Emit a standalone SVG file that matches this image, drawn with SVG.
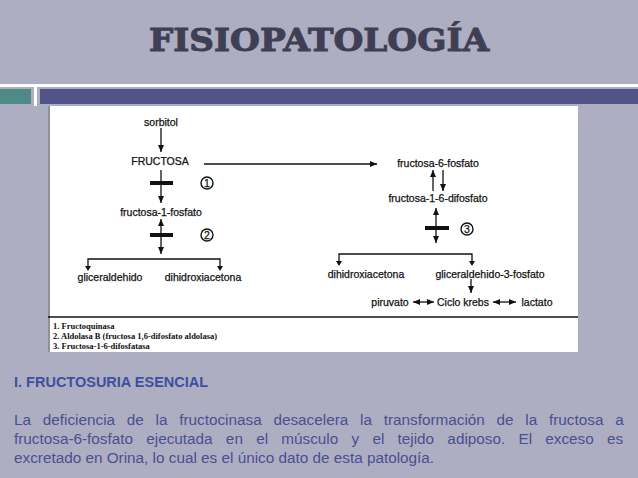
<svg xmlns="http://www.w3.org/2000/svg" width="638" height="478" viewBox="0 0 638 478">
<defs>
<marker id="ah" markerWidth="8" markerHeight="8" refX="7" refY="4" orient="auto-start-reverse" markerUnits="userSpaceOnUse"><path d="M0,1 L7,4 L0,7 Z" fill="#111"/></marker>
<style>
.t{font-family:"Liberation Sans",Arial,sans-serif;font-size:10.5px;fill:#111;text-anchor:middle;stroke:#111;stroke-width:0.25}
.l{stroke:#111;stroke-width:1.3;fill:none}
.b{stroke:#111;stroke-width:4}
.c{fill:none;stroke:#111;stroke-width:1.4}
.lg{font-family:"Liberation Serif",serif;font-size:8.5px;font-weight:bold;fill:#111}
.p{font-family:"Liberation Sans",Arial,sans-serif;font-size:15.3px;fill:#4a4f90}
</style>
</defs>
<rect width="638" height="478" fill="#aeaec2"/>
<text x="319" y="51" text-anchor="middle" font-family="DejaVu Serif" font-weight="bold" font-size="31" fill="#3e3f55" stroke="#3e3f55" stroke-width="1" textLength="340" lengthAdjust="spacingAndGlyphs">FISIOPATOLOGÍA</text>
<rect x="0" y="84" width="638" height="3" fill="#ffffff"/>
<rect x="0" y="89" width="31" height="15" fill="#4f8a86"/>
<rect x="34" y="87" width="3" height="19" fill="#ffffff"/>
<rect x="40" y="89" width="598" height="15" fill="#525488"/>
<rect x="48" y="106" width="530" height="246" fill="#ffffff"/>
<line x1="49" y1="106" x2="49" y2="352" stroke="#222" stroke-width="1"/>
<g id="connectors">
<line class="l" x1="161" y1="128" x2="161" y2="152" marker-end="url(#ah)"/>
<line class="l" x1="204" y1="164" x2="377" y2="164" marker-end="url(#ah)"/>
<line class="l" x1="161" y1="170" x2="161" y2="203" marker-end="url(#ah)"/>
<line class="b" x1="150" y1="183" x2="173" y2="183"/>
<line class="l" x1="161" y1="219" x2="161" y2="254" marker-start="url(#ah)" marker-end="url(#ah)"/>
<line class="b" x1="150" y1="235" x2="173" y2="235"/>
<polyline class="l" points="88,267 88,259 220,259 220,267"/>
<path d="M85,266 L88,271 L91,266 Z M217,266 L220,271 L223,266 Z" fill="#111"/>
<line class="l" x1="433" y1="191" x2="433" y2="170" marker-end="url(#ah)"/>
<line class="l" x1="443" y1="170" x2="443" y2="191" marker-end="url(#ah)"/>
<line class="l" x1="436" y1="208" x2="436" y2="243" marker-start="url(#ah)" marker-end="url(#ah)"/>
<line class="b" x1="425" y1="228" x2="449" y2="228"/>
<polyline class="l" points="339,262 339,254 472,254 472,262"/>
<path d="M336,261 L339,266 L342,261 Z M469,261 L472,266 L475,261 Z" fill="#111"/>
<line class="l" x1="471" y1="279" x2="471" y2="293" marker-end="url(#ah)"/>
<line class="l" x1="413" y1="302" x2="434" y2="302" marker-start="url(#ah)" marker-end="url(#ah)"/>
<line class="l" x1="493" y1="302" x2="516" y2="302" marker-start="url(#ah)" marker-end="url(#ah)"/>
<line x1="48" y1="317" x2="578" y2="317" stroke="#111" stroke-width="1.6"/>
</g>
<g id="sorbitol"><text class="t" x="161" y="126">sorbitol</text></g>
<g id="fructosa"><text class="t" x="160" y="165" font-size="11.5">FRUCTOSA</text></g>
<g id="e1"><circle class="c" cx="207" cy="183" r="6"/><text class="t" x="207" y="186.5" font-size="9">1</text></g>
<g id="f1p"><text class="t" x="161" y="216">fructosa-1-fosfato</text></g>
<g id="e2"><circle class="c" cx="207" cy="235" r="6"/><text class="t" x="207" y="238.5" font-size="9">2</text></g>
<g id="glic"><text class="t" x="110" y="281">gliceraldehido</text></g>
<g id="dhap1"><text class="t" x="203" y="281">dihidroxiacetona</text></g>
<g id="f6p"><text class="t" x="438" y="167">fructosa-6-fosfato</text></g>
<g id="f16"><text class="t" x="438" y="202">fructosa-1-6-difosfato</text></g>
<g id="e3"><circle class="c" cx="467" cy="229" r="6"/><text class="t" x="467" y="232.5" font-size="9">3</text></g>
<g id="dhap2"><text class="t" x="366" y="278">dihidroxiacetona</text></g>
<g id="g3p"><text class="t" x="490" y="278">gliceraldehido-3-fosfato</text></g>
<g id="piruvato"><text class="t" x="390" y="306">piruvato</text></g>
<g id="krebs"><text class="t" x="463" y="306">Ciclo krebs</text></g>
<g id="lactato"><text class="t" x="537" y="306">lactato</text></g>
<g id="legend">
<text class="lg" x="53" y="329">1. Fructoquinasa</text>
<text class="lg" x="53" y="339">2. Aldolasa B (fructosa 1,6-difosfato aldolasa)</text>
<text class="lg" x="53" y="349">3. Fructosa-1-6-difosfatasa</text>
</g>
<text x="14" y="387" font-family="Liberation Sans,Arial,sans-serif" font-weight="bold" font-size="14.5" fill="#3d4fa0">I. FRUCTOSURIA ESENCIAL</text>
<text class="p" x="14" y="425" word-spacing="7.5">La deficiencia de la fructocinasa desacelera la transformación de la fructosa a</text>
<text class="p" x="14" y="444" word-spacing="9">fructosa-6-fosfato ejecutada en el músculo y el tejido adiposo. El exceso es</text>
<text class="p" x="14" y="463">excretado en Orina, lo cual es el único dato de esta patología.</text>
</svg>
